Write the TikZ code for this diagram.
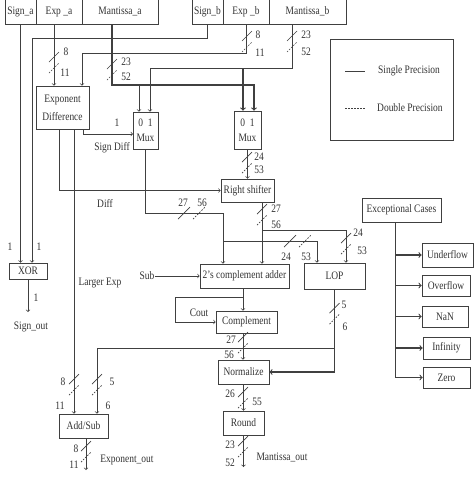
\documentclass[tikz,border=0pt]{standalone}
\usepackage{fontspec}
\setmainfont[FakeStretch=0.83]{Liberation Serif}
\pgfdeclarelayer{bg}
\pgfsetlayers{bg,main}
\tikzset{
    every node/.style={inner sep=0mm, font=\fontsize{11.4}{13}\selectfont, text=black!80},
    blk/.style={draw=black!75, line width=.7pt, rectangle, align=center},
    wire/.style={draw=black!75, line width=.7pt},
    heavy/.style={line width=1.1pt},
    dbl/.style={dash pattern=on 1.5pt off 1.5pt}
}
\tikzset{
    vbus/.pic={\draw[wire] (-5,5) -- (5,-5); \draw[wire, dbl] (-5,16) -- (5,6);},
    hbus/.pic={\draw[wire] (-6,6) -- (6,-6); \draw[wire, dbl] (9,6) -- (21,-6);}
}

\begin{document}
\begin{tikzpicture}[x=1pt, y=-1pt]
    \useasboundingbox (0,0) rectangle (474,485);

    % operands
    \node (signa) [blk, minimum width=31, minimum height=25] at (20.5, 11.5) {Sign\_a};
    \node (expa) [blk, minimum width=46, minimum height=25] at (59, 11.5) {Exp \_a};
    \node (mana) [blk, minimum width=76, minimum height=25] at (120, 11.5) {Mantissa\_a};
    \node (signb) [blk, minimum width=31, minimum height=25] at (207.5, 11.5) {Sign\_b};
    \node (expb) [blk, minimum width=46, minimum height=25] at (246, 11.5) {Exp \_b};
    \node (manb) [blk, minimum width=77, minimum height=25] at (307.5, 11.5) {Mantissa\_b};

    % legend
    \node (legend) [blk, minimum width=123, minimum height=101] at (391.5, 89.5) {};
    \coordinate (sp1) at (345, 71);
    \coordinate (sp2) at (365, 71);
    \coordinate (dp1) at (345, 108);
    \coordinate (dp2) at (365, 108);
    \node (sptxt) [anchor=west] at (378, 71) {Single Precision};
    \node (dptxt) [anchor=west] at (377, 108) {Double Precision};

    % blocks
    \node (ed) [blk, minimum width=53, minimum height=43] at (62.5, 107.5) {Exponent\\[5pt]Difference};
    \node (muxl) [blk, minimum width=25, minimum height=37] at (145.5, 130.5) {0~~1\\[2pt]Mux};
    \node (muxr) [blk, minimum width=27, minimum height=38] at (247.5, 130) {0~~1\\[2pt]Mux};
    \node (rs) [blk, minimum width=53, minimum height=23] at (247.5, 190.5) {Right shifter};
    \node (xor) [blk, minimum width=38, minimum height=16] at (28, 271) {XOR};
    \node (add) [blk, minimum width=89, minimum height=24] at (244.5, 276) {2's complement adder};
    \node (lop) [blk, minimum width=61, minimum height=26] at (334.5, 276) {LOP};
    \node (comp) [blk, minimum width=61, minimum height=22] at (246.5, 322) {Complement};
    \node (norm) [blk, minimum width=51, minimum height=24] at (243.5, 372) {Normalize};
    \node (rnd) [blk, minimum width=41, minimum height=24] at (243.5, 423) {Round};
    \node (addsub) [blk, minimum width=49, minimum height=24] at (83.5, 426) {Add/Sub};
    \node (exc) [blk, minimum width=79, minimum height=24] at (401.5, 210) {Exceptional Cases};
    \node (uf) [blk, minimum width=51, minimum height=24] at (447.5, 255) {Underflow};
    \node (of) [blk, minimum width=48, minimum height=21] at (446, 285.5) {Overflow};
    \node (nan) [blk, minimum width=46, minimum height=21] at (445, 316.5) {NaN};
    \node (inf) [blk, minimum width=47, minimum height=22] at (446.5, 348) {Infinity};
    \node (zero) [blk, minimum width=47, minimum height=21] at (446.5, 377.5) {Zero};

    % signal names
    \node (sd1) at (117, 123) {1};
    \node (sdtxt) at (112, 148) {Sign Diff};
    \node (difftxt) at (105, 203) {Diff};
    \node (letxt) at (100, 283) {Larger Exp};
    \node (sub) at (147, 276) {Sub};
    \node (cout) at (199, 313) {Cout};
    \node (xa) at (10, 247) {1};
    \node (xb) at (39, 247) {1};
    \node (xo) at (36, 298) {1};
    \node (signout) at (31, 327) {Sign\_out};
    \node (expout) at (127, 460) {Exponent\_out};
    \node (manout) at (282, 457) {Mantissa\_out};

    % bus widths
    \foreach \x/\y/\w [count=\i] in {66/52/8, 65/73/11, 126/62/23, 126/77/52,
            258/35/8, 260/53/11, 306/35/23, 306/52/52, 259/157/24, 259/170/53,
            183/203/27, 202/203/56, 276/209/27, 276/225/56, 358/233/24, 362/251/53,
            286/257/24, 306/257/53, 344/305/5, 345/327/6, 231/340/27, 229/355/56,
            230/394/26, 257/402/55, 230/445/23, 230/463/52, 63/382/8, 60/406/11,
            112/382/5, 108/406/6, 76/449/8, 74/465/11}
        \node (bw\i) at (\x, \y) {\w};
    \foreach \x/\y in {54/57, 112/64, 247/36, 292/36, 247/157, 262/209, 346/238,
            334.5/308, 243/337, 243/392, 243/441, 74/379, 97/379, 86/446}
        \pic at (\x, \y) {vbus};
    \pic at (184, 213) {hbus};
    \pic at (290, 241) {hbus};

    % wire corners
    \coordinate (sbx) at (32, 38);
    \coordinate (eax) at (54, 24);
    \coordinate (ebx) at (82, 53);
    \coordinate (max) at (112, 24);
    \coordinate (mar) at (254, 85);
    \coordinate (mal) at (139, 85);
    \coordinate (mbx) at (292, 24);
    \coordinate (mbl) at (150, 68);
    \coordinate (mbr) at (243, 68);
    \coordinate (sdx) at (83, 129);
    \coordinate (sdy) at (133, 134);
    \coordinate (diffx) at (59, 129);
    \coordinate (lex) at (74, 129);
    \coordinate (mlc) at (223, 213);
    \coordinate (mlb) at (223, 241);
    \coordinate (lopa) at (317, 241);
    \coordinate (rso) at (262, 202);
    \coordinate (rsb) at (262, 230);
    \coordinate (lopb) at (346, 230);
    \coordinate (ado) at (243, 288);
    \coordinate (cb) at (243, 297);
    \coordinate (cl) at (175, 297);
    \coordinate (cmo) at (243, 333);
    \coordinate (lb) at (334.5, 348);
    \coordinate (asx) at (97, 348);
    \coordinate (mo) at (243.5, 467);
    \coordinate (eoa) at (86, 438);
    \coordinate (eo) at (86, 470);
    \coordinate (so) at (28, 312);
    \coordinate (ex) at (395, 222);

    \begin{pgfonlayer}{bg}
        \draw[wire, ->] (signa.south) -- (signa.south |- xor.north);
        \draw[wire, ->] (signb.south) |- (sbx) -- (sbx |- xor.north);
        \draw[wire, ->] (eax) -- (eax |- ed.north);
        \draw[wire, ->] (expb.south) |- (ebx) -- (ebx |- ed.north);
        \draw[wire, heavy, ->] (max) |- (mar) -- (mar |- muxr.north);
        \draw[wire, ->] (mal) -- (mal |- muxl.north);
        \draw[wire, ->] (mbx) |- (mbl) -- (mbl |- muxl.north);
        \draw[wire, heavy, ->] (mbr) -- (mbr |- muxr.north);
        \draw[wire, ->] (sdx) |- (sdy);
        \draw[wire, ->] (diffx) |- (rs.west);
        \draw[wire, ->] (lex) -- (lex |- addsub.north);
        \draw[wire, ->] (muxl.south) |- (mlc) -- (mlc |- add.north);
        \draw[wire, ->] (mlb) -- (lopa) -- (lopa |- lop.north);
        \draw[wire, ->] (muxr.south) -- (muxr.south |- rs.north);
        \draw[wire, ->] (rso) -- (rso |- add.north);
        \draw[wire, ->] (rsb) -- (lopb) -- (lopb |- lop.north);
        \draw[wire, ->] (ado) -- (ado |- comp.north);
        \draw[wire, ->] (cb) -- (cl) |- (comp.west);
        \draw[wire, ->] (cmo) -- (cmo |- norm.north);
        \draw[wire, heavy, ->] (lop.south) |- (norm.east);
        \draw[wire, ->] (lb) -- (asx) -- (asx |- addsub.north);
        \draw[wire, ->] (norm.south) -- (rnd.north);
        \draw[wire, ->] (rnd.south) -- (mo);
        \draw[wire, ->] (eoa) -- (eo);
        \draw[wire, ->] (xor.south) -- (so);
        \draw[wire, ->] (sub) -- (add.west);
        \draw[wire] (ex) -- (ex |- zero.west);
        \foreach \n in {uf, of, nan, inf, zero}
            \draw[wire, heavy, ->] (ex |- \n.west) -- (\n.west);
        \draw[wire] (sp1) -- (sp2);
        \draw[wire, dbl] (dp1) -- (dp2);
    \end{pgfonlayer}
\end{tikzpicture}
\end{document}
